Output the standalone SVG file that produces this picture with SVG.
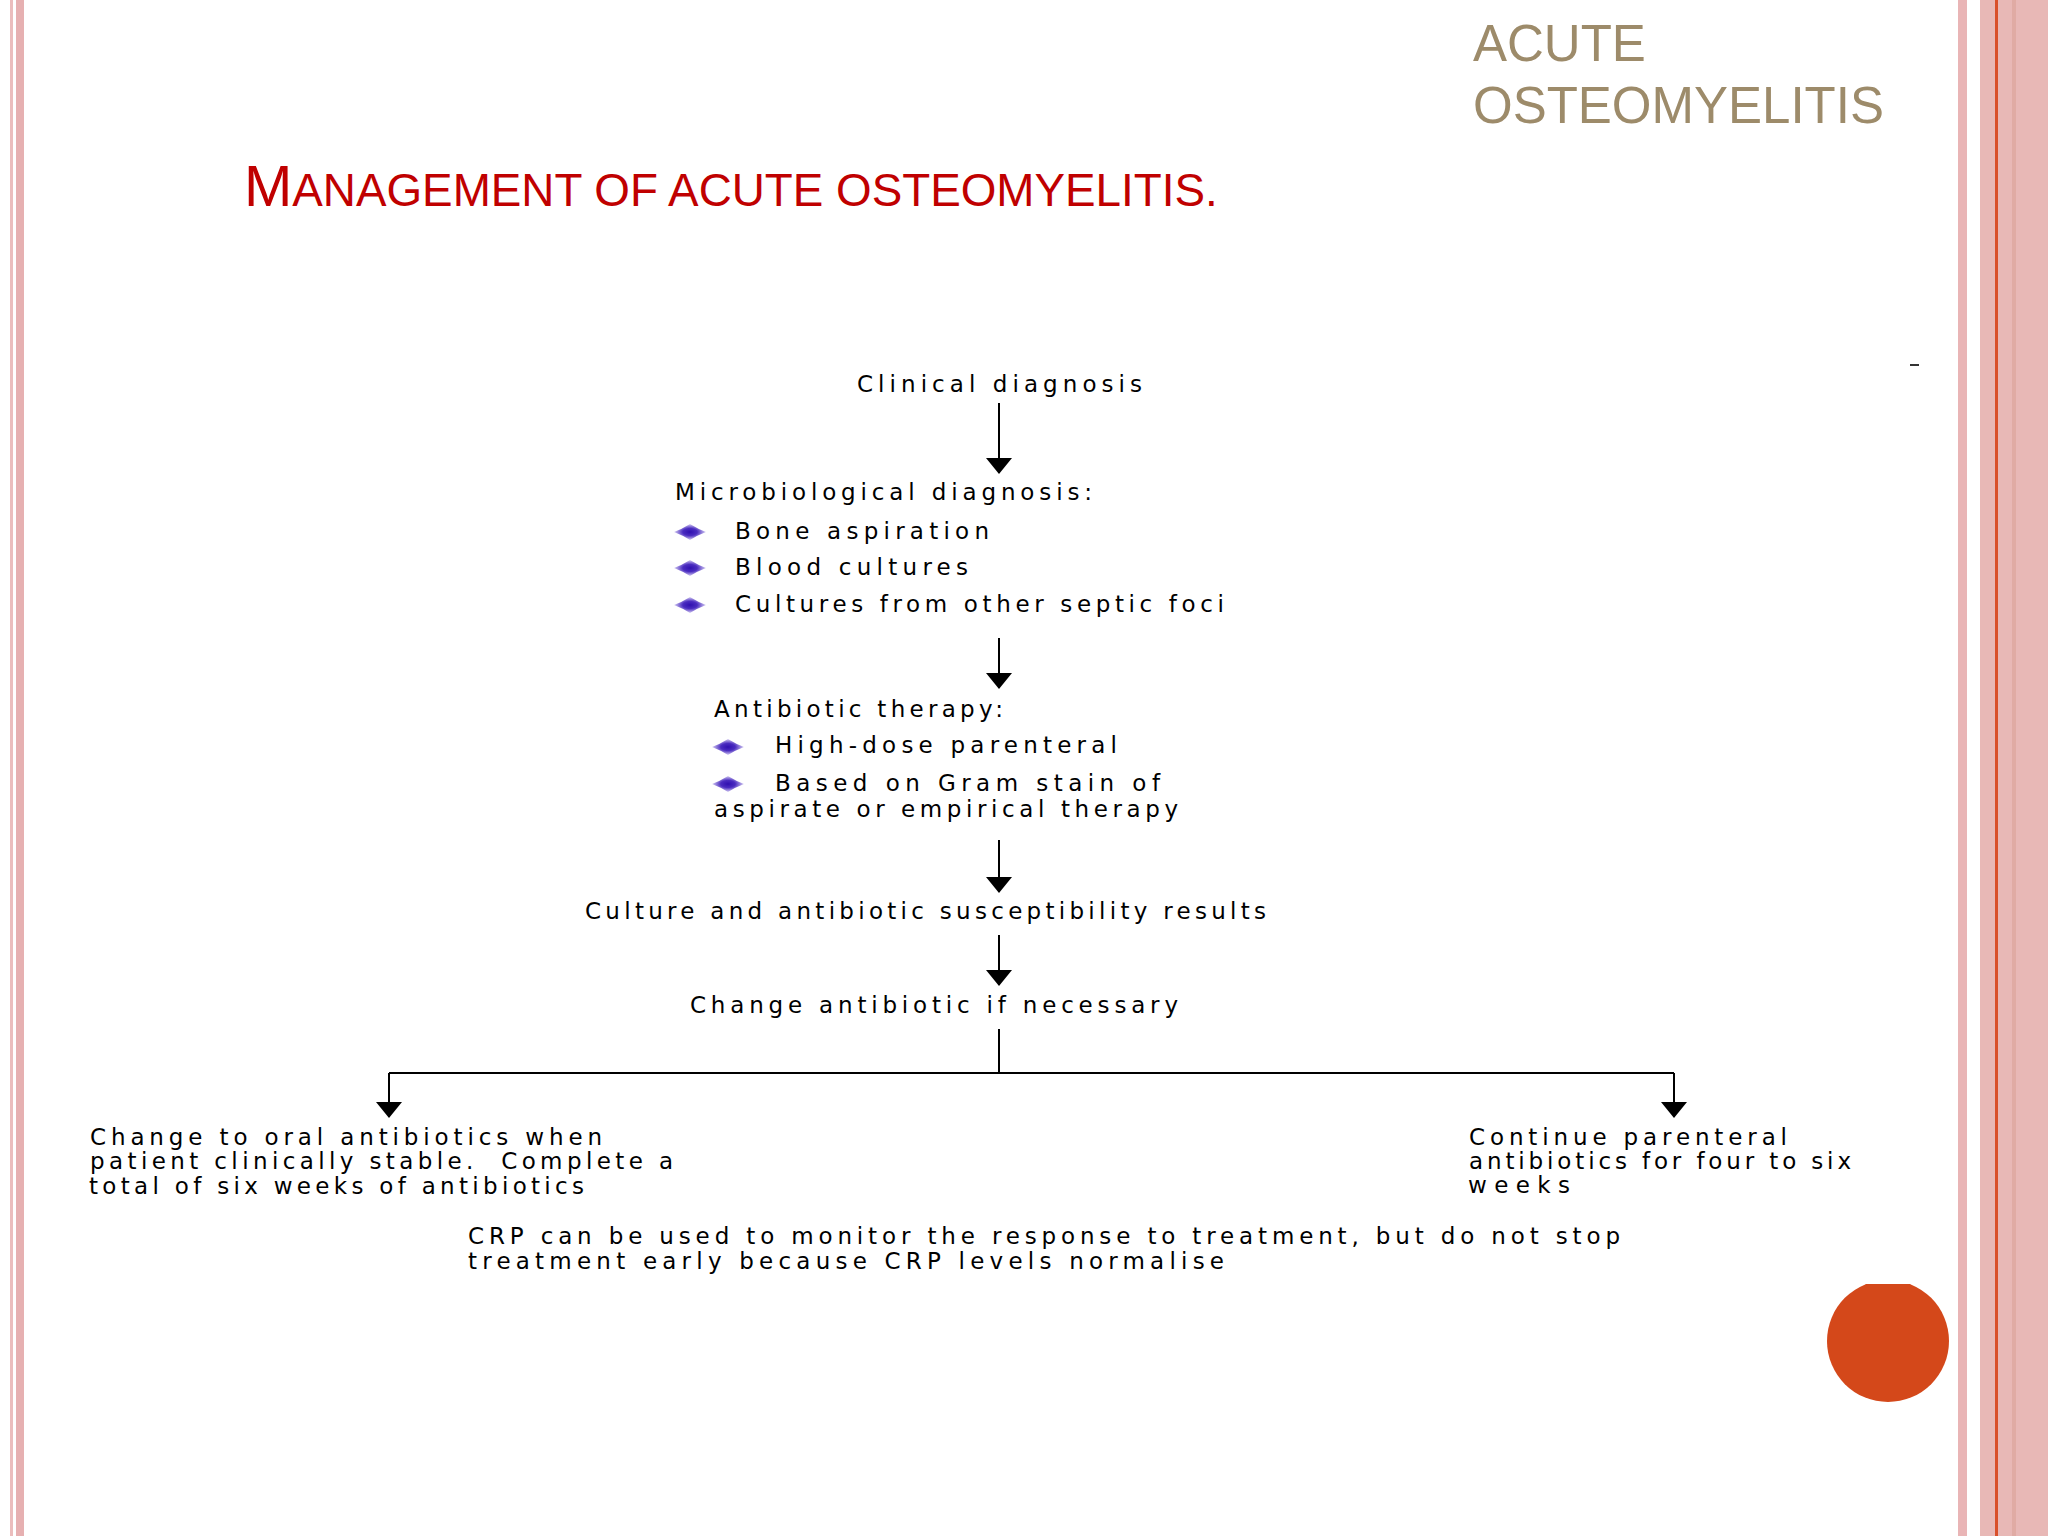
<svg xmlns="http://www.w3.org/2000/svg" xmlns:xlink="http://www.w3.org/1999/xlink" width="2048" height="1536" viewBox="0 0 2048 1536">
<style>
.t{font-family:"DejaVu Sans","Liberation Sans",Arial,sans-serif;font-size:23px;fill:#000}
.hd{font-family:"Liberation Sans",Arial,sans-serif;fill:#C00000}
.side{font-family:"Liberation Sans",Arial,sans-serif;font-size:51px;fill:#9D8B6A}
.ln{stroke:#000;stroke-width:2;fill:none}
.arr{stroke:#000;stroke-width:2;fill:none;marker-end:url(#ah)}
</style>
<defs>
<marker id="ah" markerUnits="userSpaceOnUse" markerWidth="16" markerHeight="26" refX="15" refY="13" orient="auto">
<path d="M0,0 L16,13 L0,26 Z" fill="#000"/>
</marker>
<radialGradient id="bg">
<stop offset="0" stop-color="#3010B0"/>
<stop offset="0.45" stop-color="#4A2CC0"/>
<stop offset="1" stop-color="#D8D0F4"/>
</radialGradient>
<g id="bullet">
<path d="M-16,0 Q-8,-3 0,-8 Q8,-3 16,0 Q8,3 0,8 Q-8,3 -16,0 Z" fill="url(#bg)"/>
</g>
<clipPath id="cc"><rect x="1800" y="1284" width="200" height="200"/></clipPath>
</defs>
<rect width="2048" height="1536" fill="#FFFFFF"/>
<g id="frame">
<rect x="10" y="0" width="3" height="1536" fill="#EBBDBD"/>
<rect x="16" y="0" width="8" height="1536" fill="#E6B0B1"/>
<rect x="1958" y="0" width="9" height="1536" fill="#E9B5B6"/>
<rect x="1980" y="0" width="68" height="1536" fill="#E8B8B6"/>
<rect x="1995" y="0" width="3" height="1536" fill="#D9502A"/>
<rect x="2012" y="0" width="4" height="1536" fill="#E0ABA4"/>
<circle cx="1888" cy="1341" r="61" fill="#D4481A" clip-path="url(#cc)"/>
<rect x="1910" y="364" width="9" height="2" fill="#333"/>
</g>
<g id="titles">
<text class="hd" x="244" y="206"><tspan font-size="58">M</tspan><tspan font-size="45.8">ANAGEMENT OF ACUTE OSTEOMYELITIS.</tspan></text>
<text class="side" x="1473" y="61">ACUTE</text>
<text class="side" x="1473" y="123">OSTEOMYELITIS</text>
</g>
<g id="connectors">
<path class="arr" d="M999,403 V473"/>
<path class="arr" d="M999,638 V688"/>
<path class="arr" d="M999,840 V892"/>
<path class="arr" d="M999,935 V985"/>
<path class="ln" d="M999,1029 V1073 M389,1073 H1674"/>
<path class="arr" d="M389,1073 V1117"/>
<path class="arr" d="M1674,1073 V1117"/>
</g>
<g id="clinical">
<text class="t" x="857" y="392" textLength="285" lengthAdjust="spacing">Clinical diagnosis</text>
</g>
<g id="micro">
<text class="t" x="675" y="500" textLength="417" lengthAdjust="spacing">Microbiological diagnosis:</text>
<use xlink:href="#bullet" x="690" y="532"/>
<use xlink:href="#bullet" x="690" y="568"/>
<use xlink:href="#bullet" x="690" y="605"/>
<text class="t" x="735" y="539" textLength="254" lengthAdjust="spacing">Bone aspiration</text>
<text class="t" x="735" y="575" textLength="233" lengthAdjust="spacing">Blood cultures</text>
<text class="t" x="735" y="612" textLength="489" lengthAdjust="spacing">Cultures from other septic foci</text>
</g>
<g id="antibiotic">
<text class="t" x="714" y="717" textLength="289" lengthAdjust="spacing">Antibiotic therapy:</text>
<use xlink:href="#bullet" x="728" y="747"/>
<use xlink:href="#bullet" x="728" y="784"/>
<text class="t" x="775" y="753" textLength="342" lengthAdjust="spacing">High-dose parenteral</text>
<text class="t" x="775" y="791" textLength="385" lengthAdjust="spacing">Based on Gram stain of</text>
<text class="t" x="714" y="817" textLength="464" lengthAdjust="spacing">aspirate or empirical therapy</text>
</g>
<g id="culture">
<text class="t" x="585" y="919" textLength="681" lengthAdjust="spacing">Culture and antibiotic susceptibility results</text>
</g>
<g id="change">
<text class="t" x="690" y="1013" textLength="488" lengthAdjust="spacing">Change antibiotic if necessary</text>
</g>
<g id="oral">
<text class="t" x="90" y="1145" textLength="512" lengthAdjust="spacing">Change to oral antibiotics when</text>
<text class="t" x="90" y="1169" textLength="583" lengthAdjust="spacing">patient clinically stable.&#160; Complete a</text>
<text class="t" x="89" y="1194" textLength="495" lengthAdjust="spacing">total of six weeks of antibiotics</text>
</g>
<g id="parenteral">
<text class="t" x="1469" y="1145" textLength="318" lengthAdjust="spacing">Continue parenteral</text>
<text class="t" x="1469" y="1169" textLength="382" lengthAdjust="spacing">antibiotics for four to six</text>
<text class="t" x="1468" y="1193" textLength="102" lengthAdjust="spacing">weeks</text>
</g>
<g id="crp">
<text class="t" x="468" y="1244" textLength="1152" lengthAdjust="spacing">CRP can be used to monitor the response to treatment, but do not stop</text>
<text class="t" x="468" y="1269" textLength="756" lengthAdjust="spacing">treatment early because CRP levels normalise</text>
</g>
</svg>
